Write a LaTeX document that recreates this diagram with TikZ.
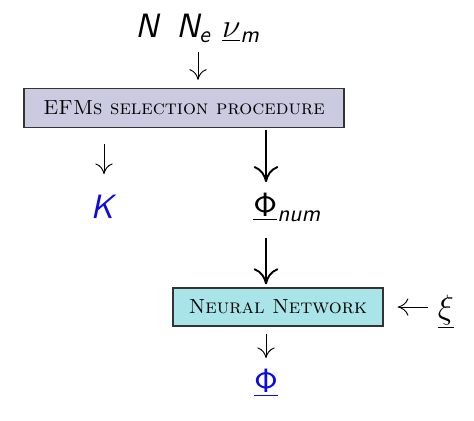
\documentclass[tikz,border=0pt]{standalone}
\usepackage{tikz}
\usetikzlibrary{positioning,calc,arrows.meta}
\DeclareMathAlphabet{\mathsfsl}{OT1}{cmss}{m}{sl}
\definecolor{boxgray}{RGB}{202,202,224}
\definecolor{boxcyan}{RGB}{168,228,232}
\definecolor{resblue}{RGB}{10,10,225}
\tikzstyle{box}=[rectangle,draw=black!80,line width=0.6pt,inner sep=0pt,font=\fontsize{8.7}{10}\selectfont]
\tikzstyle{sym}=[inner sep=0pt,anchor=base,font=\fontsize{14.5}{17}\selectfont]
\tikzstyle{sarr}=[line width=0.4pt,-{Computer Modern Rightarrow[length=1.6mm,width=2.6mm]}]
\tikzstyle{barr}=[line width=0.8pt,-{Computer Modern Rightarrow[length=2.4mm,width=3.7mm]}]

\begin{document}
\begin{tikzpicture}[x=0.15mm,y=-0.15mm]
  \useasboundingbox (0,0) rectangle (474,420);

  \node [sym] at (198, 37) (inp) {$\mathsfsl{N}\;\,\mathsfsl{N}_{\mathsfsl{e}}\;\underline{\nu}_{\mathsfsl{m}}$};
  \node [box,fill=boxgray,minimum width=320*0.15mm,minimum height=39*0.15mm] at (184, 108) (efm) {\textsc{EFMs selection procedure}};
  \node [sym,text=resblue] at (104, 218) (K) {$\mathsfsl{K}$};
  \node [sym,anchor=base west] at (253, 216) (phinum) {$\underline{\mathsf{\Phi}}_{\mathsfsl{num}}$};
  \node [box,fill=boxcyan,minimum width=210*0.15mm,minimum height=38*0.15mm] at (278, 307) (nn) {\textsc{Neural Network}};
  \node [sym] at (446, 318) (xi) {$\underline{\xi}$};
  \node [sym,text=resblue] at (266, 392) (phi) {$\underline{\mathsf{\Phi}}$};

  \draw [sarr, shorten <=9*0.15mm, shorten >=8*0.15mm] (inp.south) -- (inp.south |- efm.north);
  \draw [sarr, shorten <=16*0.15mm, shorten >=20*0.15mm] (K |- efm.south) -- (K.north);
  \draw [barr, shorten <=2*0.15mm, shorten >=10*0.15mm] (phi |- efm.south) -- (phi |- phinum.north);
  \draw [barr, shorten <=16*0.15mm, shorten >=3*0.15mm] (phi |- phinum.south) -- (phi |- nn.north);
  \draw [sarr, shorten <=7*0.15mm, shorten >=10*0.15mm] (phi |- nn.south) -- (phi.north);
  \draw [sarr, shorten <=10*0.15mm, shorten >=14*0.15mm] (xi.west |- nn.east) -- (nn.east);
\end{tikzpicture}
\end{document}
